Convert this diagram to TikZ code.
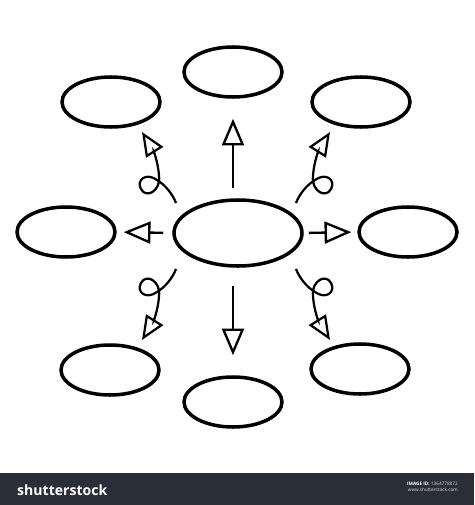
\documentclass[tikz,border=0pt]{standalone}
\usepackage{fontspec}
\setmainfont{Open Sans}
\usetikzlibrary{arrows.meta,positioning,shapes.geometric}
\definecolor{barcol}{RGB}{42,46,56}
\begin{document}
\begin{tikzpicture}[x=0.03cm,y=-0.03cm,
		bubble/.style={draw,ellipse,line width=3pt,minimum width=2.94cm,minimum height=1.5cm,inner sep=0pt},
		arr/.style={line width=2pt,-{Triangle[open,length=0.8cm,width=0.66cm]}},
		curl/.style={line width=1.9pt,-{Triangle[open,length=0.72cm,width=0.6cm]}}]
		\useasboundingbox (0,0) rectangle (474,505);
		\node[bubble,minimum width=3.84cm,minimum height=1.98cm] (hub) at (238,233) {};
		\node[bubble] (bubN) at (233,72) {};
		\node[bubble] (bubS) at (233,402) {};
		\node[bubble] (bubW) at (66,232) {};
		\node[bubble] (bubE) at (408,232) {};
		\node[bubble] (bubNW) at (111,102) {};
		\node[bubble] (bubNE) at (361,102) {};
		\node[bubble] (bubSW) at (110,370) {};
		\node[bubble] (bubSE) at (360,369) {};
		% straight arrows
		\draw[arr,shorten <=0.3cm,shorten >=0.6cm] (bubN.south |- hub.north) -- (bubN.south);
		\draw[arr,shorten <=0.54cm,shorten >=0.6cm] (bubS.north |- hub.south) -- (bubS.north);
		\draw[arr,shorten <=0.27cm,shorten >=0.21cm] (hub.west) -- (bubW.east);
		\draw[arr,shorten <=0.15cm,shorten >=0.18cm] (hub.east) -- (bubE.west);
		% curly arrows, mirrored round the hub
		\foreach \sx/\sy in {1/1,-1/1,1/-1,-1/-1}{
			\begin{scope}[shift={(236,236)},xscale=\sx,yscale=\sy]
				\draw[curl] (-60,-33) .. controls (-64,-43) and (-71,-51) .. (-79,-56)
					.. controls (-90,-64) and (-100,-56) .. (-95,-47)
					.. controls (-90,-37) and (-75,-45) .. (-77,-60)
					.. controls (-78,-76) and (-84,-88) .. (-94,-104);
			\end{scope}
		}
		% bottom bar
		\fill[barcol] (0,473) rectangle (474,505);
		\node[anchor=west,text=white,font=\bfseries\fontsize{12}{12}\selectfont,inner sep=0pt] (logo) at (17,490) {shutterstock};
		\node[anchor=north east,text=white!75!gray,font=\fontsize{4}{5}\selectfont,align=right,inner sep=0pt] (imgid) at (458,482) {\textbf{\color{white}IMAGE ID:} 1364778872\\www.shutterstock.com};
	\end{tikzpicture}
\end{document}
